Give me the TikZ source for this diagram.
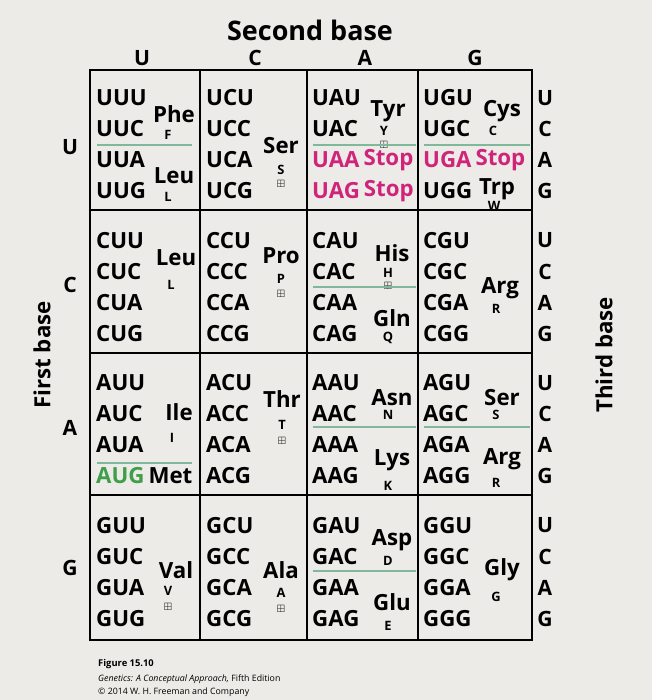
\documentclass[tikz,border=0pt]{standalone}
\usepackage{fontspec}
\usepackage{amssymb}
\setmainfont{Open Sans}
\usetikzlibrary{positioning}
\definecolor{PaperGray}{HTML}{ECEBE7}
\definecolor{StopPink}{HTML}{D0247A}
\definecolor{StartGreen}{HTML}{3F9E4A}
\definecolor{RuleGreen}{HTML}{7FB89A}

\tikzset{
  codon/.style={font=\fontsize{19}{21}\selectfont\bfseries, anchor=west, inner sep=0pt},
  codon UAA/.style={text=StopPink}, codon UAG/.style={text=StopPink},
  codon UGA/.style={text=StopPink}, codon AUG/.style={text=StartGreen},
  amino/.style={font=\fontsize{19}{21}\selectfont\bfseries, inner sep=0pt},
  letter/.style={font=\fontsize{11}{12}\selectfont\bfseries, inner sep=0pt},
  icon/.style={font=\fontsize{9}{10}\selectfont, inner sep=0pt},
  base/.style={font=\fontsize{18}{20}\selectfont\bfseries, inner sep=0pt},
  split/.style={RuleGreen, line width=1pt}
}

\begin{document}
\begin{tikzpicture}[x=0.03cm, y=-0.03cm]
  \fill[PaperGray] (0,0) rectangle (652,700);
  \useasboundingbox (0,0) rectangle (652,700);

  % grid
  \draw[line width=1.6pt] (90,70) rectangle (532,640);
  \foreach \gx in {200,307,418} \draw[line width=1.3pt] (\gx,70) -- (\gx,640);
  \foreach \gy in {210,353,495} \draw[line width=1.3pt] (90,\gy) -- (532,\gy);

  % codons
  \foreach \f [count=\i from 0] in {U,C,A,G} {
    \foreach \s/\cx in {U/96,C/206,A/312,G/423} {
      \foreach \t [count=\k from 0] in {U,C,A,G} {
        \node[codon, codon \f\s\t/.try] (c\f\s\t) at (\cx,{98+142.5*\i+31*\k}) {\f\s\t};
      }
    }
  }

  % headings
  \node[font=\fontsize{23}{25}\selectfont\bfseries] (second) at (310,30) {Second base};
  \foreach \b/\bx in {U/142,C/255,A/365,G/475} \node[base] (top\b) at (\bx,58) {\b};
  \node[font=\fontsize{19}{21}\selectfont\bfseries, rotate=90] (first) at (42,355) {First base};
  \foreach \b/\by in {U/147,C/285,A/428,G/568} \node[base] (left\b) at (70,\by) {\b};
  \node[font=\fontsize{19}{21}\selectfont\bfseries, rotate=90] (third) at (604,355) {Third base};
  \foreach \f [count=\i from 0] in {U,C,A,G}
    \foreach \t [count=\k from 0] in {U,C,A,G}
      \node[base] (right\f\t) at (545,{98+142.5*\i+31*\k}) {\t};

  % row U
  \node[amino] (phe) at (174,114) {Phe};  \node[letter] (pheL) at (168,135) {F};
  \node[amino] (leu1) at (174,176) {Leu}; \node[letter] (leu1L) at (168,197) {L};
  \draw[split] (97,145) -- (192,145);
  \node[amino] (ser1) at (281,146) {Ser}; \node[letter] (ser1L) at (281,170) {S};
  \node[icon] (ser1I) at (281,184) {$\boxplus$};
  \node[amino] (tyr) at (388,111) {Tyr};  \node[letter] (tyrL) at (384,131) {Y};
  \node[icon] (tyrI) at (384,145) {$\boxplus$};
  \draw[split] (313,145) -- (416,145);
  \node[codon, text=StopPink, right=3pt of cUAA] (stop1) {Stop};
  \node[codon, text=StopPink, right=3pt of cUAG] (stop2) {Stop};
  \node[amino] (cys) at (502,111) {Cys};  \node[letter] (cysL) at (493,131) {C};
  \draw[split] (424,145) -- (530,145);
  \node[codon, text=StopPink, right=3pt of cUGA] (stop3) {Stop};
  \node[amino] (trp) at (497,189) {Trp};  \node[letter] (trpL) at (494,206) {W};

  % row C
  \node[amino] (leu2) at (176,258) {Leu}; \node[letter] (leu2L) at (171,285) {L};
  \node[amino] (pro) at (281,256) {Pro};  \node[letter] (proL) at (281,279) {P};
  \node[icon] (proI) at (281,294) {$\boxplus$};
  \node[amino] (his) at (392,253) {His};  \node[letter] (hisL) at (388,273) {H};
  \node[icon] (hisI) at (388,286) {$\boxplus$};
  \draw[split] (313,287) -- (416,287);
  \node[amino] (gln) at (392,318) {Gln};  \node[letter] (glnL) at (388,338) {Q};
  \node[amino] (arg1) at (500,288) {Arg}; \node[letter] (arg1L) at (496,309) {R};

  % row A
  \node[amino] (ile) at (179,412) {Ile};  \node[letter] (ileL) at (172,438) {I};
  \draw[split] (97,463) -- (192,463);
  \node[amino, right=3pt of cAUG] (met) {Met};
  \node[amino] (thr) at (282,399) {Thr}; \node[letter] (thrL) at (282,425) {T};
  \node[icon] (thrI) at (282,441) {$\boxplus$};
  \node[amino] (asn) at (392,398) {Asn};  \node[letter] (asnL) at (388,415) {N};
  \draw[split] (313,427) -- (416,427);
  \node[amino] (lys) at (392,460) {Lys};  \node[letter] (lysL) at (388,486) {K};
  \node[amino] (ser2) at (502,398) {Ser}; \node[letter] (ser2L) at (496,415) {S};
  \draw[split] (424,427) -- (530,427);
  \node[amino] (arg2) at (502,459) {Arg}; \node[letter] (arg2L) at (496,483) {R};

  % row G
  \node[amino] (val) at (176,570) {Val};  \node[letter] (valL) at (168,591) {V};
  \node[icon] (valI) at (168,607) {$\boxplus$};
  \node[amino] (ala) at (281,570) {Ala};  \node[letter] (alaL) at (281,593) {A};
  \node[icon] (alaI) at (281,609) {$\boxplus$};
  \node[amino] (asp) at (392,540) {Asp};  \node[letter] (aspL) at (388,561) {D};
  \draw[split] (313,571) -- (416,571);
  \node[amino] (glu) at (392,602) {Glu};  \node[letter] (gluL) at (388,626) {E};
  \node[amino] (gly) at (502,570) {Gly};  \node[letter] (glyL) at (496,597) {G};

  % caption
  \node[anchor=west, inner sep=0pt, font=\fontsize{8}{9}\selectfont\bfseries] (fig) at (98,664) {Figure 15.10};
  \node[anchor=west, inner sep=0pt, font=\fontsize{7.5}{8}\selectfont\itshape] (book) at (98,679) {Genetics: A Conceptual Approach, \upshape Fifth Edition};
  \node[anchor=west, inner sep=0pt, font=\fontsize{7.5}{8}\selectfont] (copy) at (98,692) {© 2014 W. H. Freeman and Company};
\end{tikzpicture}
\end{document}
